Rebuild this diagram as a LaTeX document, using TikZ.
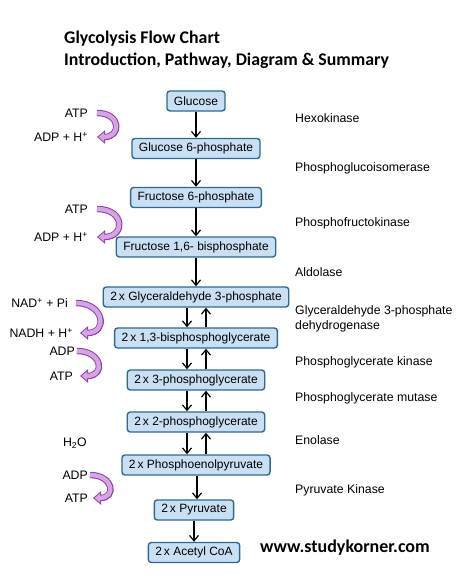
\documentclass[tikz,border=0pt]{standalone}
\usepackage{fontspec}
\setmainfont{Liberation Sans}
\newfontfamily\titlefont{Carlito}
\usetikzlibrary{arrows.meta}
\definecolor{boxfill}{HTML}{C9DFF4}
\definecolor{boxline}{HTML}{2F6A8C}
\definecolor{arcdark}{HTML}{8A3FA0}
\definecolor{arclight}{HTML}{D6A4E6}
\tikzset{
  stage/.style={draw=boxline, line width=1.4pt, fill=boxfill, rounded corners=3pt,
    inner xsep=7pt, minimum height=20pt, font=\fontsize{12}{14}\selectfont},
  flow/.style={-{Straight Barb[length=5.5pt,width=9pt]}, line width=1.2pt},
  enz/.style={anchor=west, inner sep=0pt, font=\fontsize{12.3}{14.5}\selectfont},
  side/.style={anchor=east, inner sep=0pt, font=\fontsize{12.3}{14.5}\selectfont},
  ttl/.style={anchor=west, inner sep=0pt, font=\titlefont\bfseries\fontsize{17.8}{20}\selectfont},
  cofac/.style={arclight, line width=4.4pt, shorten >=1.5pt,
    -{Triangle[length=5.5pt,width=9pt]},
    preaction={draw=arcdark, line width=6.4pt, shorten >=0pt,
      -{Triangle[length=8pt,width=13pt]}}}
}
\begin{document}
\begin{tikzpicture}[x=1pt,y=-1pt]
  \useasboundingbox (0,0) rectangle (474,578);

  % title
  \node[ttl] (t1) at (64,39) {Glycolysis Flow Chart};
  \node[ttl] (t2) at (64,61) {Introduction, Pathway, Diagram \& Summary};

  % pathway
  \node[stage] (glc)  at (196,101)   {Glucose};
  \node[stage] (g6p)  at (196,148.5) {Glucose 6-phosphate};
  \node[stage] (f6p)  at (196,197.5) {Fructose 6-phosphate};
  \node[stage] (fbp)  at (196,247)   {Fructose 1,6- bisphosphate};
  \node[stage] (gap)  at (196,297)   {2\,x Glyceraldehyde 3-phosphate};
  \node[stage] (bpg)  at (196,338)   {2\,x 1,3-bisphosphoglycerate};
  \node[stage] (pga)  at (196,380)   {2\,x 3-phosphoglycerate};
  \node[stage] (pgb)  at (196,422)   {2\,x 2-phosphoglycerate};
  \node[stage] (pep)  at (196,465)   {2\,x Phosphoenolpyruvate};
  \node[stage] (pyr)  at (194,510)   {2\,x Pyruvate};
  \node[stage] (acoa) at (194,552.5) {2\,x Acetyl CoA};

  \draw[flow] (glc) -- (g6p);
  \draw[flow] (g6p) -- (f6p);
  \draw[flow] (f6p) -- (fbp);
  \draw[flow] (fbp) -- (gap);
  \foreach \a/\b in {gap/bpg, bpg/pga, pga/pgb, pgb/pep} {
    \draw[flow] ([xshift=-9pt]\a.south) -- ([xshift=-9pt]\b.north);
    \draw[flow] ([xshift=10pt]\b.north) -- ([xshift=10pt]\a.south);
  }
  \draw[flow] ([xshift=1pt]pep.south) -- ([xshift=3pt]pyr.north);
  \draw[flow] (pyr) -- (acoa);

  % enzymes
  \node[enz] (hk)   at (295,118) {Hexokinase};
  \node[enz] (pgi)  at (295,168) {Phosphoglucoisomerase};
  \node[enz] (pfk)  at (295,223) {Phosphofructokinase};
  \node[enz] (ald)  at (295,272) {Aldolase};
  \node[enz, align=left] (gapdh) at (295,319) {Glyceraldehyde 3-phosphate\\dehydrogenase};
  \node[enz] (pgk)  at (295,362) {Phosphoglycerate kinase};
  \node[enz] (pgm)  at (295,398) {Phosphoglycerate mutase};
  \node[enz] (eno)  at (295,440) {Enolase};
  \node[enz] (pk)   at (295,490) {Pyruvate Kinase};

  % cofactors
  \node[side] (atpA) at (88,113) {ATP};
  \node[side] (adpA) at (88,137) {ADP + H\textsuperscript{+}};
  \node[side] (atpB) at (88,209) {ATP};
  \node[side] (adpB) at (88,237) {ADP + H\textsuperscript{+}};
  \node[side] (nad)  at (68,303) {NAD\textsuperscript{+} + Pi};
  \node[side] (nadh) at (73,333) {NADH + H\textsuperscript{+}};
  \node[side] (adpC) at (75,351) {ADP};
  \node[side] (atpC) at (73,376) {ATP};
  \node[side] (h2o)  at (87,443) {H\textsubscript{2}O};
  \node[side] (adpD) at (88,475) {ADP};
  \node[side] (atpD) at (88,498) {ATP};

  \draw[cofac] ([xshift=9pt]atpA.east) to[out=0,in=0,looseness=2.6] ([xshift=9pt]adpA.east);
  \draw[cofac] ([xshift=9pt]atpB.east) to[out=0,in=0,looseness=2.6] ([xshift=9pt]adpB.east);
  \draw[cofac] ([xshift=8pt]nad.east)  to[out=0,in=0,looseness=2.4] ([xshift=7pt]nadh.east);
  \draw[cofac] ([xshift=2pt]adpC.east) to[out=0,in=0,looseness=2.6] ([xshift=7pt]atpC.east);
  \draw[cofac] ([xshift=2pt]adpD.east) to[out=0,in=0,looseness=2.6] ([xshift=5pt]atpD.east);

  \node[ttl, font=\titlefont\bfseries\fontsize{18}{20}\selectfont] (url) at (260,548) {www.studykorner.com};
\end{tikzpicture}
\end{document}
